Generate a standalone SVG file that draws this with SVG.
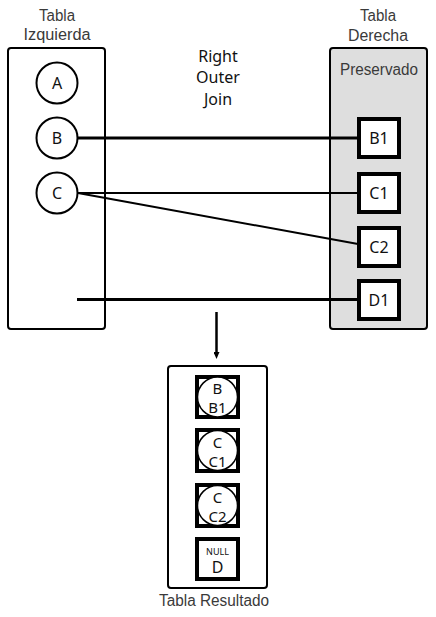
<svg xmlns="http://www.w3.org/2000/svg" width="436" height="617" viewBox="0 0 436 617">
<style>
.tbl{fill:#fff;stroke:#000;stroke-width:2}
.pres{fill:#dedede;stroke:#000;stroke-width:2}
.cap{font-family:"Liberation Sans",Arial,sans-serif;font-size:16px;fill:#3a3a3a;text-anchor:middle}
.lbl{font-family:"Noto Sans","Open Sans",sans-serif;font-size:16px;fill:#111;text-anchor:middle}
.rl{font-family:"Noto Sans","Open Sans",sans-serif;font-size:15px;fill:#111;text-anchor:middle}
.circ{fill:#fff;stroke:#000;stroke-width:2}
.sq{fill:#fff;stroke:#000;stroke-width:4}
.rc{fill:#fff;stroke:#000;stroke-width:1.5}
.conn{stroke:#000;fill:none}
</style>
<defs>
<marker id="ah" markerWidth="7" markerHeight="6" refX="0" refY="3" orient="auto" markerUnits="userSpaceOnUse" viewBox="0 0 7 6">
<path d="M0,0 L7,3 L0,6 Z" fill="#000"/>
</marker>
</defs>
<g id="tabla-izquierda">
<rect class="tbl" x="8" y="48" width="97" height="281" rx="3"/>
<text class="cap" x="57" y="21" textLength="36" lengthAdjust="spacingAndGlyphs">Tabla</text>
<text class="cap" x="57" y="40" textLength="67" lengthAdjust="spacingAndGlyphs">Izquierda</text>
</g>
<g id="tabla-derecha">
<rect class="pres" x="330" y="48" width="97" height="281" rx="3"/>
<text class="cap" x="378" y="21" textLength="36" lengthAdjust="spacingAndGlyphs">Tabla</text>
<text class="cap" x="378" y="41" textLength="60" lengthAdjust="spacingAndGlyphs">Derecha</text>
<text class="cap" x="379" y="75" textLength="78" lengthAdjust="spacingAndGlyphs">Preservado</text>
</g>
<g id="join-label">
<text class="lbl" x="218" y="62">Right</text>
<text class="lbl" x="218" y="83">Outer</text>
<text class="lbl" x="218" y="105">Join</text>
</g>
<g id="connectors">
<line class="conn" x1="78" y1="138" x2="358" y2="138" stroke-width="3"/>
<line class="conn" x1="78" y1="193" x2="358" y2="193" stroke-width="2"/>
<line class="conn" x1="78" y1="193" x2="358" y2="244" stroke-width="2"/>
<line class="conn" x1="77" y1="299.5" x2="358" y2="299.5" stroke-width="3"/>
<line class="conn" x1="216.5" y1="312" x2="216.5" y2="352" stroke-width="2.5" marker-end="url(#ah)"/>
</g>
<g id="node-A"><circle class="circ" cx="57" cy="83" r="20.5"/><text class="lbl" x="57" y="89">A</text></g>
<g id="node-B"><circle class="circ" cx="57" cy="138" r="20.5"/><text class="lbl" x="57" y="144">B</text></g>
<g id="node-C"><circle class="circ" cx="57" cy="193" r="20.5"/><text class="lbl" x="57" y="199">C</text></g>
<g id="node-B1"><rect class="sq" x="359" y="119" width="40" height="38"/><text class="lbl" x="379" y="144">B1</text></g>
<g id="node-C1"><rect class="sq" x="359" y="174" width="40" height="38"/><text class="lbl" x="379" y="199">C1</text></g>
<g id="node-C2"><rect class="sq" x="359" y="228" width="40" height="38"/><text class="lbl" x="379" y="253">C2</text></g>
<g id="node-D1"><rect class="sq" x="359" y="281" width="40" height="38"/><text class="lbl" x="379" y="306">D1</text></g>
<g id="tabla-resultado">
<rect class="tbl" x="168" y="366" width="99" height="222" rx="3"/>
<text class="cap" x="214" y="606" textLength="110" lengthAdjust="spacingAndGlyphs">Tabla Resultado</text>
</g>
<g id="res-B-B1"><rect class="sq" x="197" y="377" width="41" height="40"/><circle class="rc" cx="217.5" cy="397" r="20"/><text class="rl" x="217.5" y="394">B</text><text class="rl" x="217.5" y="413">B1</text></g>
<g id="res-C-C1"><rect class="sq" x="197" y="430" width="41" height="41"/><circle class="rc" cx="217.5" cy="450.5" r="20"/><text class="rl" x="217.5" y="448">C</text><text class="rl" x="217.5" y="467">C1</text></g>
<g id="res-C-C2"><rect class="sq" x="197" y="485" width="41" height="41"/><circle class="rc" cx="217.5" cy="505.5" r="20"/><text class="rl" x="217.5" y="503">C</text><text class="rl" x="217.5" y="522">C2</text></g>
<g id="res-NULL-D"><rect class="sq" x="197" y="539" width="41" height="40"/><text class="lbl" x="217.5" y="555" style="font-size:9px">NULL</text><text class="lbl" x="217.5" y="573">D</text></g>
</svg>
